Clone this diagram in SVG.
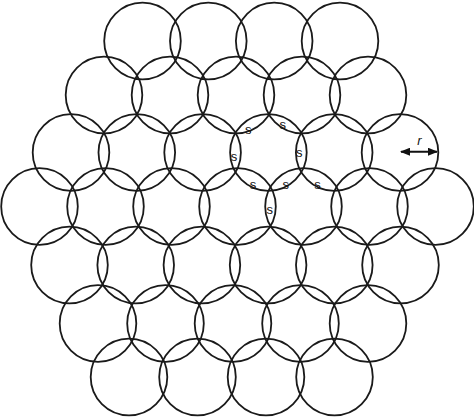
<svg xmlns="http://www.w3.org/2000/svg" width="474" height="420" viewBox="0 0 474 420">
<style>
.c{fill:none;stroke:#1a1a1a;stroke-width:1.8}
.s{font-family:"Liberation Sans",Arial,sans-serif;font-size:13px;fill:#111;text-anchor:middle}
.r{font-family:"Liberation Sans",Arial,sans-serif;font-size:13px;font-style:italic;fill:#111;text-anchor:middle}
.a{stroke:#111;stroke-width:2;fill:none}
</style>
<defs>
<marker id="ah" viewBox="0 0 10 8" refX="9" refY="4" markerWidth="10" markerHeight="8" markerUnits="userSpaceOnUse" orient="auto-start-reverse">
<path d="M0,0 L10,4 L0,8 z" fill="#111"/>
</marker>
</defs>
<rect width="474" height="420" fill="#fff"/>
<g id="row1">
<g id="n1-1"><circle class="c" cx="142.5" cy="41" r="38.3"/></g>
<g id="n1-2"><circle class="c" cx="208.3" cy="41" r="38.3"/></g>
<g id="n1-3"><circle class="c" cx="274.2" cy="41" r="38.3"/></g>
<g id="n1-4"><circle class="c" cx="340" cy="41" r="38.3"/></g>
</g>
<g id="row2">
<g id="n2-1"><circle class="c" cx="104" cy="95" r="38.3"/></g>
<g id="n2-2"><circle class="c" cx="170" cy="95" r="38.3"/></g>
<g id="n2-3"><circle class="c" cx="236" cy="95" r="38.3"/></g>
<g id="n2-4"><circle class="c" cx="302" cy="95" r="38.3"/></g>
<g id="n2-5"><circle class="c" cx="368" cy="95" r="38.3"/></g>
</g>
<g id="row3">
<g id="n3-1"><circle class="c" cx="71" cy="152.5" r="38.3"/></g>
<g id="n3-2"><circle class="c" cx="136.8" cy="152.5" r="38.3"/></g>
<g id="n3-3"><circle class="c" cx="202.6" cy="152.5" r="38.3"/></g>
<g id="n3-4"><circle class="c" cx="268.4" cy="152.5" r="38.3"/></g>
<g id="n3-5"><circle class="c" cx="334.2" cy="152.5" r="38.3"/></g>
<g id="n3-6"><circle class="c" cx="400" cy="152.5" r="38.3"/></g>
</g>
<g id="row4">
<g id="n4-1"><circle class="c" cx="39.5" cy="206.5" r="38.3"/></g>
<g id="n4-2"><circle class="c" cx="105.5" cy="206.5" r="38.3"/></g>
<g id="n4-3"><circle class="c" cx="171.5" cy="206.5" r="38.3"/></g>
<g id="n4-4"><circle class="c" cx="237.5" cy="206.5" r="38.3"/></g>
<g id="n4-5"><circle class="c" cx="303.5" cy="206.5" r="38.3"/></g>
<g id="n4-6"><circle class="c" cx="369.5" cy="206.5" r="38.3"/></g>
<g id="n4-7"><circle class="c" cx="435.5" cy="206.5" r="38.3"/></g>
</g>
<g id="row5">
<g id="n5-1"><circle class="c" cx="69.5" cy="265" r="38.3"/></g>
<g id="n5-2"><circle class="c" cx="135.7" cy="265" r="38.3"/></g>
<g id="n5-3"><circle class="c" cx="201.9" cy="265" r="38.3"/></g>
<g id="n5-4"><circle class="c" cx="268.1" cy="265" r="38.3"/></g>
<g id="n5-5"><circle class="c" cx="334.3" cy="265" r="38.3"/></g>
<g id="n5-6"><circle class="c" cx="400.5" cy="265" r="38.3"/></g>
</g>
<g id="row6">
<g id="n6-1"><circle class="c" cx="98" cy="323.5" r="38.3"/></g>
<g id="n6-2"><circle class="c" cx="165.5" cy="323.5" r="38.3"/></g>
<g id="n6-3"><circle class="c" cx="233" cy="323.5" r="38.3"/></g>
<g id="n6-4"><circle class="c" cx="300.5" cy="323.5" r="38.3"/></g>
<g id="n6-5"><circle class="c" cx="368" cy="323.5" r="38.3"/></g>
</g>
<g id="row7">
<g id="n7-1"><circle class="c" cx="129" cy="377" r="38.3"/></g>
<g id="n7-2"><circle class="c" cx="197.5" cy="377" r="38.3"/></g>
<g id="n7-3"><circle class="c" cx="266" cy="377" r="38.3"/></g>
<g id="n7-4"><circle class="c" cx="334.5" cy="377" r="38.3"/></g>
</g>
<g id="labels">
<text class="s" x="248.3" y="133.5">s</text>
<text class="s" x="282.7" y="129.2">s</text>
<text class="s" x="234" y="161">s</text>
<text class="s" x="299.2" y="156.5">s</text>
<text class="s" x="253" y="189.2">s</text>
<text class="s" x="285.7" y="188.7">s</text>
<text class="s" x="317.5" y="188.7">s</text>
<text class="s" x="269.7" y="213.7">s</text>
</g>
<g id="connectors">
<line class="a" x1="401" y1="151.7" x2="437" y2="151.7" marker-start="url(#ah)" marker-end="url(#ah)"/>
<text class="r" x="419.5" y="145">r</text>
</g>
</svg>
